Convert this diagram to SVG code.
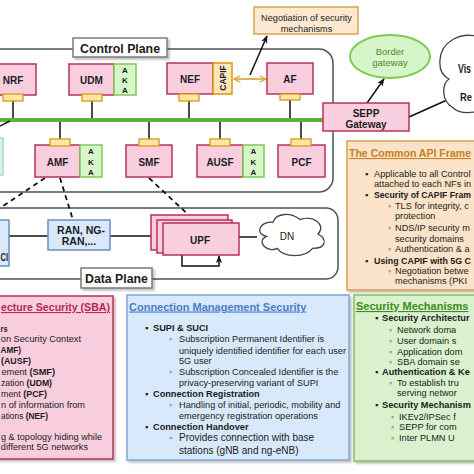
<svg xmlns="http://www.w3.org/2000/svg" width="474" height="474" viewBox="0 0 474 474">
<defs>
<style>
text{font-family:"Liberation Sans",Arial,Helvetica,sans-serif;fill:#1c1c1c}
.nd{fill:#f9cfe0;stroke:#b8325a;stroke-width:1.5}
.aka{fill:#d6f5c8;stroke:#7ccb55;stroke-width:1.5}
.port{fill:#ffe6a3;stroke:#d49a1e;stroke-width:1.3}
.blue{fill:#dae8fc;stroke:#6c8ebf;stroke-width:1.5}
.lbl{font-size:10px;font-weight:bold;text-anchor:middle}
.ak{font-size:8px;font-weight:bold;text-anchor:middle}
.cont{fill:none;stroke:#4a545c;stroke-width:1.5}
.plane{fill:#fff;stroke:#7a7a7a;stroke-width:1.5}
.pt{font-size:12.3px;font-weight:bold;text-anchor:middle}
.ln{stroke:#111;stroke-width:1.5;fill:none}
.dash{stroke:#111;stroke-width:1.8;stroke-dasharray:5 4;fill:none}
.bd{font-size:9.2px}
.b{font-weight:bold}
.ttl{font-size:11px;font-weight:bold;text-decoration:underline}
</style>
<marker id="arr" viewBox="0 0 10 10" refX="9" refY="5" markerWidth="8" markerHeight="8" markerUnits="userSpaceOnUse" orient="auto-start-reverse">
<path d="M0,1 L10,5 L0,9 L3,5 Z" fill="#111"/>
</marker>
<marker id="oarr" viewBox="0 0 10 10" refX="9" refY="5" markerWidth="8" markerHeight="8" markerUnits="userSpaceOnUse" orient="auto-start-reverse">
<path d="M1,1 L9,5 L1,9" fill="none" stroke="#d9a233" stroke-width="1.6"/>
</marker>
<filter id="sh" x="-10%" y="-10%" width="130%" height="130%">
<feDropShadow dx="2" dy="2" stdDeviation="1.2" flood-color="#000" flood-opacity="0.25"/>
</filter>
</defs>
<rect width="474" height="474" fill="#fff"/>

<g id="control-plane">
<rect class="cont" x="-20" y="49" width="353" height="143" rx="14"/>
<rect class="plane" x="73" y="38" width="94" height="19" filter="url(#sh)"/>
<text class="pt" x="120" y="52.5">Control Plane</text>
</g>
<g id="data-plane">
<rect class="cont" x="-20" y="208" width="358" height="71" rx="12"/>
<rect class="plane" x="81" y="268" width="71" height="20" filter="url(#sh)"/>
<text class="pt" x="116.5" y="282.5">Data Plane</text>
</g>

<g id="connectors">
<line x1="-2" y1="120" x2="324" y2="120" stroke="#5db33a" stroke-width="4"/>
<line class="ln" x1="10" y1="121" x2="-2" y2="127"/>
<line class="ln" x1="13" y1="101" x2="13" y2="118"/>
<line class="ln" x1="92" y1="101" x2="92" y2="118"/>
<line class="ln" x1="189" y1="101" x2="189" y2="118"/>
<line class="ln" x1="290" y1="100" x2="290" y2="118"/>
<line class="ln" x1="60" y1="122" x2="60" y2="139"/>
<line class="ln" x1="149" y1="122" x2="149" y2="139"/>
<line class="ln" x1="220" y1="122" x2="220" y2="139"/>
<line class="ln" x1="301" y1="122" x2="301" y2="139"/>
<line class="dash" x1="45" y1="178" x2="-3" y2="210"/>
<line class="dash" x1="60" y1="178" x2="73" y2="220"/>
<line class="dash" x1="149" y1="178" x2="194" y2="220"/>
<line class="ln" x1="9" y1="236" x2="48" y2="236"/>
<line class="ln" x1="110" y1="236" x2="151" y2="236"/>
<line class="ln" x1="239" y1="237" x2="257" y2="237"/>
<path class="ln" d="M182 255 L182 266 L219 266 L219 256" marker-end="url(#arr)"/>
<line x1="234" y1="79" x2="266" y2="79" stroke="#d9a233" stroke-width="1.6" marker-start="url(#oarr)" marker-end="url(#oarr)"/>
<line class="ln" x1="250" y1="75" x2="267" y2="36" marker-end="url(#arr)"/>
<line class="ln" x1="367" y1="103" x2="384" y2="79" marker-end="url(#arr)"/>
<line class="ln" x1="409" y1="117" x2="447" y2="100"/>
</g>

<g id="nrf">
<rect class="nd" x="-12" y="64" width="48" height="31"/>
<rect class="port" x="3" y="94" width="20" height="7"/>
<text class="lbl" x="13" y="83.5">NRF</text>
</g>
<g id="udm">
<rect class="nd" x="69" y="64" width="45" height="31"/>
<rect class="aka" x="114" y="64" width="22" height="31"/>
<rect class="port" x="82" y="94" width="20" height="7"/>
<text class="lbl" x="91.5" y="83.5">UDM</text>
<text class="ak" x="125" y="73">A</text><text class="ak" x="125" y="83">K</text><text class="ak" x="125" y="93">A</text>
</g>
<g id="nef">
<rect class="nd" x="167" y="63" width="46" height="31"/>
<rect x="213" y="63" width="19" height="31" fill="#fde5c0" stroke="#d79b00" stroke-width="1.5"/>
<rect class="port" x="179" y="94" width="20" height="7"/>
<text class="lbl" x="190" y="82.5">NEF</text>
<text class="b" font-size="8.5" text-anchor="middle" transform="translate(225.5,78) rotate(-90)">CAPIF</text>
</g>
<g id="af">
<rect class="nd" x="267" y="63" width="46" height="31"/>
<rect class="port" x="280" y="94" width="20" height="6"/>
<text class="lbl" x="290" y="82.5">AF</text>
</g>
<g id="negotiation">
<rect x="254" y="7" width="104" height="27" fill="#fde8d2" stroke="#dca54c" stroke-width="1.5"/>
<text class="bd" font-size="9" x="306.5" y="21" text-anchor="middle">Negotiation of security</text>
<text class="bd" font-size="9" x="306.5" y="32" text-anchor="middle">mechanisms</text>
</g>
<g id="border-gateway">
<ellipse cx="390" cy="56.5" rx="40" ry="21.5" fill="#d6f5c8" stroke="#7ccb55" stroke-width="2"/>
<text x="390" y="55.3" font-size="9.5" text-anchor="middle" style="fill:#4e8a36">Border</text>
<text x="390" y="66.3" font-size="9.5" text-anchor="middle" style="fill:#4e8a36">gateway</text>
</g>
<g id="visited">
<path d="M480 37 C460 31,441 42,440 60 C439 70,443 76,449 79 C442 84,441 100,452 107 C458 113,468 114,480 111 Z" fill="#fff" stroke="#444" stroke-width="1.3"/>
<text class="b" x="458" y="73" font-size="12.5" textLength="13" lengthAdjust="spacingAndGlyphs">Vis</text>
<text class="b" x="460" y="101" font-size="10" textLength="12" lengthAdjust="spacingAndGlyphs">Re</text>
</g>
<g id="sepp">
<rect class="nd" x="323" y="103" width="86" height="28"/>
<text class="lbl" x="366" y="116.5">SEPP</text>
<text class="lbl" x="366" y="127.5">Gateway</text>
</g>
<g id="amf">
<rect class="nd" x="35" y="145" width="45" height="32"/>
<rect class="aka" x="80" y="145" width="22" height="32"/>
<rect class="port" x="50" y="139" width="20" height="7"/>
<text class="lbl" x="57.5" y="165.5">AMF</text>
<text class="ak" x="91" y="154">A</text><text class="ak" x="91" y="164.5">K</text><text class="ak" x="91" y="175">A</text>
</g>
<g id="smf">
<rect class="nd" x="126" y="145" width="46" height="32"/>
<rect class="port" x="139" y="139" width="20" height="7"/>
<text class="lbl" x="149" y="165.5">SMF</text>
</g>
<g id="ausf">
<rect class="nd" x="197" y="145" width="46" height="32"/>
<rect class="aka" x="243" y="145" width="21" height="32"/>
<rect class="port" x="210" y="139" width="20" height="7"/>
<text class="lbl" x="220" y="165.5">AUSF</text>
<text class="ak" x="253.5" y="154">A</text><text class="ak" x="253.5" y="164.5">K</text><text class="ak" x="253.5" y="175">A</text>
</g>
<g id="pcf">
<rect class="nd" x="278" y="145" width="47" height="32"/>
<rect class="port" x="291" y="139" width="20" height="7"/>
<text class="lbl" x="301.5" y="165.5">PCF</text>
</g>
<g id="left-teal">
<rect x="-20" y="138" width="23" height="37" fill="#dff3ee" stroke="#a8d8cc" stroke-width="1.5"/>
</g>
<g id="suci">
<rect class="blue" x="-20" y="220" width="29" height="46"/>
<text class="b" x="0.5" y="261" font-size="11" textLength="7.5" lengthAdjust="spacingAndGlyphs">CI</text>
</g>
<g id="ran">
<rect class="blue" x="48" y="220" width="62" height="30"/>
<text class="b" x="81" y="233.5" font-size="10.5" text-anchor="middle">RAN, NG-</text>
<text class="b" x="79" y="245" font-size="10.5" text-anchor="middle">RAN,...</text>
</g>
<g id="upf">
<rect class="nd" x="151" y="215" width="77" height="35"/>
<rect class="nd" x="157" y="220" width="75" height="33"/>
<rect class="nd" x="163" y="223" width="76" height="32"/>
<text class="lbl" x="200" y="243.5" font-size="10.5">UPF</text>
</g>
<g id="dn">
<path d="M273 222 C258.6 222,255 234,266.5 236.4 C255 241.7,268 253.2,277.3 248.4 C283.8 258,305.4 258,312.6 248.4 C327 248.4,327 238.8,318 234 C327 224.4,312.6 214.8,300 219.6 C291 212.4,276.6 212.4,273 222 Z" fill="#fff" stroke="#444" stroke-width="1.3"/>
<text x="287" y="239.5" font-size="10" text-anchor="middle">DN</text>
</g>

<g id="capif-panel">
<rect x="347" y="141" width="140" height="149" fill="#fbe3c9" stroke="#d6a24f" stroke-width="1.5" filter="url(#sh)"/>
<text class="ttl" x="349" y="157" style="fill:#c5801f" textLength="122" lengthAdjust="spacingAndGlyphs">The Common API Frame</text>
<text class="bd" x="365" y="176.6">▪</text><text class="bd" x="374" y="176.6">Applicable to all Control</text>
<text class="bd" x="374" y="186.6">attached to each NFs in</text>
<text class="bd" x="365" y="197.6">▪</text><text class="bd b" x="374" y="197.6" textLength="97" lengthAdjust="spacingAndGlyphs">Security of CAPIF Fram</text>
<text class="bd" x="388" y="209.3">◦</text><text class="bd" x="395" y="209.3">TLS for integrity, c</text>
<text class="bd" x="395" y="219.3">protection</text>
<text class="bd" x="388" y="230.6">◦</text><text class="bd" x="395" y="230.6">NDS/IP security m</text>
<text class="bd" x="395" y="241.6">security domains</text>
<text class="bd" x="388" y="252.3">◦</text><text class="bd" x="395" y="252.3">Authentication &amp; a</text>
<text class="bd" x="365" y="264">▪</text><text class="bd b" x="374" y="264" textLength="97" lengthAdjust="spacingAndGlyphs">Using CAPIF with 5G C</text>
<text class="bd" x="388" y="274">◦</text><text class="bd" x="395" y="274">Negotiation betwe</text>
<text class="bd" x="395" y="284">mechanisms (PKI</text>
</g>

<g id="sba-panel">
<rect x="-10" y="296" width="123" height="163" fill="#f8cddd" stroke="#b8325a" stroke-width="1.5" filter="url(#sh)"/>
<text class="ttl" x="110" y="311" text-anchor="end" style="fill:#b12a55" textLength="109" lengthAdjust="spacingAndGlyphs">ecture Security (SBA)</text>
<text class="bd b" x="7.5" y="331.6" text-anchor="end" textLength="7" lengthAdjust="spacingAndGlyphs">rs</text>
<text class="bd" x="81" y="341.6" text-anchor="end">on Security Context</text>
<text class="bd b" x="21" y="353.3" text-anchor="end" textLength="20.5" lengthAdjust="spacingAndGlyphs">AMF)</text>
<text class="bd b" x="31" y="364" text-anchor="end" textLength="30" lengthAdjust="spacingAndGlyphs">(AUSF)</text>
<text class="bd" x="55" y="375" text-anchor="end">ement <tspan class="b">(SMF)</tspan></text>
<text class="bd" x="52" y="385.6" text-anchor="end" textLength="51" lengthAdjust="spacingAndGlyphs">zation <tspan class="b">(UDM)</tspan></text>
<text class="bd" x="47" y="396.6" text-anchor="end" textLength="46" lengthAdjust="spacingAndGlyphs">ment <tspan class="b">(PCF)</tspan></text>
<text class="bd" x="85" y="407.6" text-anchor="end" textLength="84" lengthAdjust="spacingAndGlyphs">n of information from</text>
<text class="bd" x="48" y="419.3" text-anchor="end" textLength="47" lengthAdjust="spacingAndGlyphs">ations <tspan class="b">(NEF)</tspan></text>
<text class="bd" x="102" y="440" text-anchor="end" textLength="101" lengthAdjust="spacingAndGlyphs">g &amp; topology hiding while</text>
<text class="bd" x="88" y="450" text-anchor="end">different 5G networks</text>
</g>

<g id="conn-panel">
<rect x="127" y="295" width="222" height="165" fill="#d7e9fb" stroke="#7fa6d9" stroke-width="1.5" filter="url(#sh)"/>
<text class="ttl" x="129" y="310.5" style="fill:#4b7dc8">Connection Management Security</text>
<text class="bd" x="145" y="331.3">▪</text><text class="bd b" x="153" y="331.3">SUPI &amp; SUCI</text>
<text class="bd" x="169" y="342.3">◦</text><text class="bd" x="179" y="342.3">Subscription Permanent Identifier is</text>
<text class="bd" x="179" y="354">uniquely identified identifier for each user</text>
<text class="bd" x="179" y="364.3">5G user</text>
<text class="bd" x="169" y="375">◦</text><text class="bd" x="179" y="375">Subscription Concealed Identifier is the</text>
<text class="bd" x="179" y="386">privacy-preserving variant of SUPI</text>
<text class="bd" x="145" y="397.3">▪</text><text class="bd b" x="153" y="397.3">Connection Registration</text>
<text class="bd" x="169" y="408.3">◦</text><text class="bd" x="179" y="408.3">Handling of initial, periodic, mobility and</text>
<text class="bd" x="179" y="419.3">emergency registration operations</text>
<text class="bd" x="145" y="430">▪</text><text class="bd b" x="153" y="430">Connection Handover</text>
<text x="169" y="440.8" font-size="10">◦</text><text x="179" y="440.8" font-size="10">Provides connection with base</text>
<text x="179" y="453.5" font-size="10">stations (gNB and ng-eNB)</text>
</g>

<g id="mech-panel">
<rect x="354" y="295" width="130" height="166" fill="#d9f1cd" stroke="#85bd5f" stroke-width="1.5" filter="url(#sh)"/>
<text class="ttl" x="356" y="310" style="fill:#3d8b20">Security Mechanisms</text>
<text class="bd" x="375" y="321.3">▪</text><text class="bd b" x="382" y="321.3">Security Architectur</text>
<text class="bd" x="389" y="333.3">◦</text><text class="bd" x="397" y="333.3">Network doma</text>
<text class="bd" x="389" y="344.3">◦</text><text class="bd" x="397" y="344.3">User domain s</text>
<text class="bd" x="389" y="355.3">◦</text><text class="bd" x="397" y="355.3">Application dom</text>
<text class="bd" x="389" y="365.3">◦</text><text class="bd" x="397" y="365.3">SBA domain se</text>
<text class="bd" x="375" y="375.3">▪</text><text class="bd b" x="382" y="375.3">Authentication &amp; Ke</text>
<text class="bd" x="389" y="386.3">◦</text><text class="bd" x="397" y="386.3">To establish tru</text>
<text class="bd" x="397" y="396.3">serving networ</text>
<text class="bd" x="375" y="408.3">▪</text><text class="bd b" x="382" y="408.3">Security Mechanism</text>
<text class="bd" x="391" y="420.3">◦</text><text class="bd" x="399" y="420.3">IKEv2/IPSec f</text>
<text class="bd" x="391" y="430.3">◦</text><text class="bd" x="399" y="430.3">SEPP for com</text>
<text class="bd" x="391" y="441.3">◦</text><text class="bd" x="399" y="441.3">Inter PLMN U</text>
</g>
</svg>
